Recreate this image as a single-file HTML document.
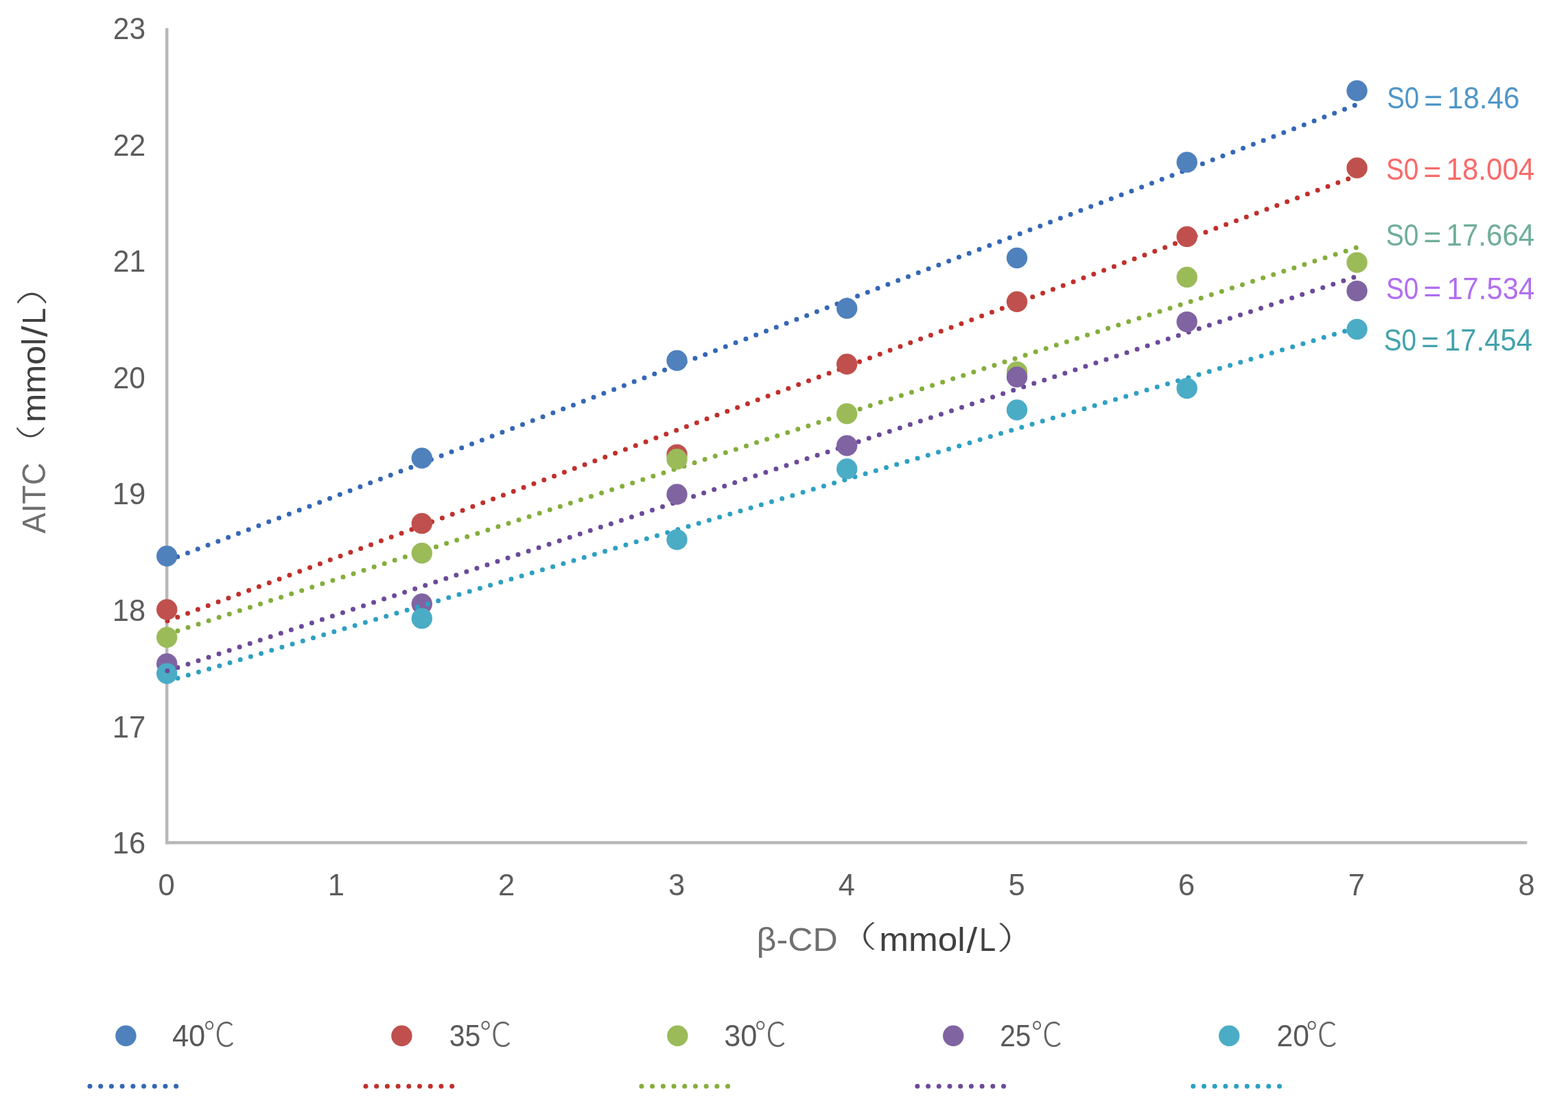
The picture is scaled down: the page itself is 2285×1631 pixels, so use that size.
<!DOCTYPE html>
<html><head><meta charset="utf-8"><title>AITC vs β-CD</title><style>
html,body{margin:0;padding:0;background:#fff;}
body{width:2285px;height:1631px;overflow:hidden;}
svg{display:block;}
text{font-family:"Liberation Sans","Noto Sans CJK SC",sans-serif;}
</style></head>
<body>
<svg width="2285" height="1631" viewBox="0 0 2285 1631">
<rect width="2285" height="1631" fill="#fff"/>
<line x1="243.2" y1="41" x2="243.2" y2="1230.5" stroke="#b8b8b8" stroke-width="4.5"/>
<line x1="241" y1="1228.3" x2="2225.4" y2="1228.3" stroke="#b8b8b8" stroke-width="4.5"/>
<text class="tk"><tspan x="163.75" y="1244.15" fill="#5c5c5c" style="font-size:43.5px" textLength="48.33" lengthAdjust="spacingAndGlyphs">16</tspan></text>
<text class="tk"><tspan x="163.73" y="1074.55" fill="#5c5c5c" style="font-size:43.5px" textLength="48.61" lengthAdjust="spacingAndGlyphs">17</tspan></text>
<text class="tk"><tspan x="163.75" y="904.95" fill="#5c5c5c" style="font-size:43.5px" textLength="48.33" lengthAdjust="spacingAndGlyphs">18</tspan></text>
<text class="tk"><tspan x="163.73" y="735.35" fill="#5c5c5c" style="font-size:43.5px" textLength="48.61" lengthAdjust="spacingAndGlyphs">19</tspan></text>
<text class="tk"><tspan x="164.82" y="565.75" fill="#5c5c5c" style="font-size:43.5px" textLength="46.97" lengthAdjust="spacingAndGlyphs">20</tspan></text>
<text class="tk"><tspan x="164.79" y="396.15" fill="#5c5c5c" style="font-size:43.5px" textLength="47.51" lengthAdjust="spacingAndGlyphs">21</tspan></text>
<text class="tk"><tspan x="164.79" y="226.55" fill="#5c5c5c" style="font-size:43.5px" textLength="47.51" lengthAdjust="spacingAndGlyphs">22</tspan></text>
<text class="tk"><tspan x="164.80" y="56.95" fill="#5c5c5c" style="font-size:43.5px" textLength="47.24" lengthAdjust="spacingAndGlyphs">23</tspan></text>
<text class="tk"><tspan x="230.57" y="1304.55" fill="#5c5c5c" style="font-size:43.5px" textLength="24.20" lengthAdjust="spacingAndGlyphs">0</tspan></text>
<text class="tk"><tspan x="477.82" y="1304.55" fill="#5c5c5c" style="font-size:43.5px" textLength="24.20" lengthAdjust="spacingAndGlyphs">1</tspan></text>
<text class="tk"><tspan x="726.08" y="1304.55" fill="#5c5c5c" style="font-size:43.5px" textLength="24.20" lengthAdjust="spacingAndGlyphs">2</tspan></text>
<text class="tk"><tspan x="973.95" y="1304.55" fill="#5c5c5c" style="font-size:43.5px" textLength="24.20" lengthAdjust="spacingAndGlyphs">3</tspan></text>
<text class="tk"><tspan x="1221.70" y="1304.55" fill="#5c5c5c" style="font-size:43.5px" textLength="24.20" lengthAdjust="spacingAndGlyphs">4</tspan></text>
<text class="tk"><tspan x="1469.45" y="1304.55" fill="#5c5c5c" style="font-size:43.5px" textLength="24.20" lengthAdjust="spacingAndGlyphs">5</tspan></text>
<text class="tk"><tspan x="1716.95" y="1304.55" fill="#5c5c5c" style="font-size:43.5px" textLength="24.20" lengthAdjust="spacingAndGlyphs">6</tspan></text>
<text class="tk"><tspan x="1964.83" y="1304.55" fill="#5c5c5c" style="font-size:43.5px" textLength="24.20" lengthAdjust="spacingAndGlyphs">7</tspan></text>
<text class="tk"><tspan x="2212.57" y="1304.55" fill="#5c5c5c" style="font-size:43.5px" textLength="24.20" lengthAdjust="spacingAndGlyphs">8</tspan></text>
<circle cx="243.2" cy="810.5" r="15.2" fill="#4F81BD"/>
<circle cx="614.8" cy="667.8" r="15.2" fill="#4F81BD"/>
<circle cx="986.5" cy="525.5" r="15.2" fill="#4F81BD"/>
<circle cx="1234.2" cy="449.5" r="15.2" fill="#4F81BD"/>
<circle cx="1482.0" cy="376" r="15.2" fill="#4F81BD"/>
<circle cx="1729.7" cy="236.5" r="15.2" fill="#4F81BD"/>
<circle cx="1977.5" cy="132.2" r="15.2" fill="#4F81BD"/>
<circle cx="243.2" cy="888.4" r="15.2" fill="#C0504D"/>
<circle cx="614.8" cy="762.9" r="15.2" fill="#C0504D"/>
<circle cx="986.5" cy="662.6" r="15.2" fill="#C0504D"/>
<circle cx="1234.2" cy="530.7" r="15.2" fill="#C0504D"/>
<circle cx="1482.0" cy="439.7" r="15.2" fill="#C0504D"/>
<circle cx="1729.7" cy="344.9" r="15.2" fill="#C0504D"/>
<circle cx="1977.5" cy="244.7" r="15.2" fill="#C0504D"/>
<circle cx="243.2" cy="929" r="15.2" fill="#9BBB59"/>
<circle cx="614.8" cy="806.3" r="15.2" fill="#9BBB59"/>
<circle cx="986.5" cy="669.3" r="15.2" fill="#9BBB59"/>
<circle cx="1234.2" cy="603" r="15.2" fill="#9BBB59"/>
<circle cx="1482.0" cy="542" r="15.2" fill="#9BBB59"/>
<circle cx="1729.7" cy="404" r="15.2" fill="#9BBB59"/>
<circle cx="1977.5" cy="382.6" r="15.2" fill="#9BBB59"/>
<circle cx="243.2" cy="967.5" r="15.2" fill="#8064A2"/>
<circle cx="614.8" cy="880.2" r="15.2" fill="#8064A2"/>
<circle cx="986.5" cy="720.5" r="15.2" fill="#8064A2"/>
<circle cx="1234.2" cy="649.5" r="15.2" fill="#8064A2"/>
<circle cx="1482.0" cy="549.5" r="15.2" fill="#8064A2"/>
<circle cx="1729.7" cy="469.1" r="15.2" fill="#8064A2"/>
<circle cx="1977.5" cy="424.1" r="15.2" fill="#8064A2"/>
<circle cx="243.2" cy="981.7" r="15.2" fill="#4BACC6"/>
<circle cx="614.8" cy="901.4" r="15.2" fill="#4BACC6"/>
<circle cx="986.5" cy="786.6" r="15.2" fill="#4BACC6"/>
<circle cx="1234.2" cy="683.4" r="15.2" fill="#4BACC6"/>
<circle cx="1482.0" cy="597.5" r="15.2" fill="#4BACC6"/>
<circle cx="1729.7" cy="566" r="15.2" fill="#4BACC6"/>
<circle cx="1977.5" cy="479.9" r="15.2" fill="#4BACC6"/>
<defs>
<mask id="mB" maskUnits="userSpaceOnUse" x="0" y="0" width="2285" height="1631"><rect width="2285" height="1631" fill="#fff"/><circle cx="243.2" cy="810.5" r="14.899999999999999" fill="#000"/><circle cx="614.8" cy="667.8" r="14.899999999999999" fill="#000"/><circle cx="986.5" cy="525.5" r="14.899999999999999" fill="#000"/><circle cx="1234.2" cy="449.5" r="14.899999999999999" fill="#000"/><circle cx="1482.0" cy="376" r="14.899999999999999" fill="#000"/><circle cx="1729.7" cy="236.5" r="14.899999999999999" fill="#000"/><circle cx="1977.5" cy="132.2" r="14.899999999999999" fill="#000"/><circle cx="243.2" cy="888.4" r="15.2" fill="#fff"/><circle cx="614.8" cy="762.9" r="15.2" fill="#fff"/><circle cx="986.5" cy="662.6" r="15.2" fill="#fff"/><circle cx="1234.2" cy="530.7" r="15.2" fill="#fff"/><circle cx="1482.0" cy="439.7" r="15.2" fill="#fff"/><circle cx="1729.7" cy="344.9" r="15.2" fill="#fff"/><circle cx="1977.5" cy="244.7" r="15.2" fill="#fff"/><circle cx="243.2" cy="929" r="15.2" fill="#fff"/><circle cx="614.8" cy="806.3" r="15.2" fill="#fff"/><circle cx="986.5" cy="669.3" r="15.2" fill="#fff"/><circle cx="1234.2" cy="603" r="15.2" fill="#fff"/><circle cx="1482.0" cy="542" r="15.2" fill="#fff"/><circle cx="1729.7" cy="404" r="15.2" fill="#fff"/><circle cx="1977.5" cy="382.6" r="15.2" fill="#fff"/><circle cx="243.2" cy="967.5" r="15.2" fill="#fff"/><circle cx="614.8" cy="880.2" r="15.2" fill="#fff"/><circle cx="986.5" cy="720.5" r="15.2" fill="#fff"/><circle cx="1234.2" cy="649.5" r="15.2" fill="#fff"/><circle cx="1482.0" cy="549.5" r="15.2" fill="#fff"/><circle cx="1729.7" cy="469.1" r="15.2" fill="#fff"/><circle cx="1977.5" cy="424.1" r="15.2" fill="#fff"/><circle cx="243.2" cy="981.7" r="15.2" fill="#fff"/><circle cx="614.8" cy="901.4" r="15.2" fill="#fff"/><circle cx="986.5" cy="786.6" r="15.2" fill="#fff"/><circle cx="1234.2" cy="683.4" r="15.2" fill="#fff"/><circle cx="1482.0" cy="597.5" r="15.2" fill="#fff"/><circle cx="1729.7" cy="566" r="15.2" fill="#fff"/><circle cx="1977.5" cy="479.9" r="15.2" fill="#fff"/></mask>
<mask id="mR" maskUnits="userSpaceOnUse" x="0" y="0" width="2285" height="1631"><rect width="2285" height="1631" fill="#fff"/><circle cx="243.2" cy="888.4" r="14.899999999999999" fill="#000"/><circle cx="614.8" cy="762.9" r="14.899999999999999" fill="#000"/><circle cx="986.5" cy="662.6" r="14.899999999999999" fill="#000"/><circle cx="1234.2" cy="530.7" r="14.899999999999999" fill="#000"/><circle cx="1482.0" cy="439.7" r="14.899999999999999" fill="#000"/><circle cx="1729.7" cy="344.9" r="14.899999999999999" fill="#000"/><circle cx="1977.5" cy="244.7" r="14.899999999999999" fill="#000"/><circle cx="243.2" cy="929" r="15.2" fill="#fff"/><circle cx="614.8" cy="806.3" r="15.2" fill="#fff"/><circle cx="986.5" cy="669.3" r="15.2" fill="#fff"/><circle cx="1234.2" cy="603" r="15.2" fill="#fff"/><circle cx="1482.0" cy="542" r="15.2" fill="#fff"/><circle cx="1729.7" cy="404" r="15.2" fill="#fff"/><circle cx="1977.5" cy="382.6" r="15.2" fill="#fff"/><circle cx="243.2" cy="967.5" r="15.2" fill="#fff"/><circle cx="614.8" cy="880.2" r="15.2" fill="#fff"/><circle cx="986.5" cy="720.5" r="15.2" fill="#fff"/><circle cx="1234.2" cy="649.5" r="15.2" fill="#fff"/><circle cx="1482.0" cy="549.5" r="15.2" fill="#fff"/><circle cx="1729.7" cy="469.1" r="15.2" fill="#fff"/><circle cx="1977.5" cy="424.1" r="15.2" fill="#fff"/><circle cx="243.2" cy="981.7" r="15.2" fill="#fff"/><circle cx="614.8" cy="901.4" r="15.2" fill="#fff"/><circle cx="986.5" cy="786.6" r="15.2" fill="#fff"/><circle cx="1234.2" cy="683.4" r="15.2" fill="#fff"/><circle cx="1482.0" cy="597.5" r="15.2" fill="#fff"/><circle cx="1729.7" cy="566" r="15.2" fill="#fff"/><circle cx="1977.5" cy="479.9" r="15.2" fill="#fff"/></mask>
<mask id="mG" maskUnits="userSpaceOnUse" x="0" y="0" width="2285" height="1631"><rect width="2285" height="1631" fill="#fff"/><circle cx="243.2" cy="929" r="14.899999999999999" fill="#000"/><circle cx="614.8" cy="806.3" r="14.899999999999999" fill="#000"/><circle cx="986.5" cy="669.3" r="14.899999999999999" fill="#000"/><circle cx="1234.2" cy="603" r="14.899999999999999" fill="#000"/><circle cx="1482.0" cy="542" r="14.899999999999999" fill="#000"/><circle cx="1729.7" cy="404" r="14.899999999999999" fill="#000"/><circle cx="1977.5" cy="382.6" r="14.899999999999999" fill="#000"/><circle cx="243.2" cy="967.5" r="15.2" fill="#fff"/><circle cx="614.8" cy="880.2" r="15.2" fill="#fff"/><circle cx="986.5" cy="720.5" r="15.2" fill="#fff"/><circle cx="1234.2" cy="649.5" r="15.2" fill="#fff"/><circle cx="1482.0" cy="549.5" r="15.2" fill="#fff"/><circle cx="1729.7" cy="469.1" r="15.2" fill="#fff"/><circle cx="1977.5" cy="424.1" r="15.2" fill="#fff"/><circle cx="243.2" cy="981.7" r="15.2" fill="#fff"/><circle cx="614.8" cy="901.4" r="15.2" fill="#fff"/><circle cx="986.5" cy="786.6" r="15.2" fill="#fff"/><circle cx="1234.2" cy="683.4" r="15.2" fill="#fff"/><circle cx="1482.0" cy="597.5" r="15.2" fill="#fff"/><circle cx="1729.7" cy="566" r="15.2" fill="#fff"/><circle cx="1977.5" cy="479.9" r="15.2" fill="#fff"/></mask>
<mask id="mP" maskUnits="userSpaceOnUse" x="0" y="0" width="2285" height="1631"><rect width="2285" height="1631" fill="#fff"/><circle cx="243.2" cy="967.5" r="14.899999999999999" fill="#000"/><circle cx="614.8" cy="880.2" r="14.899999999999999" fill="#000"/><circle cx="986.5" cy="720.5" r="14.899999999999999" fill="#000"/><circle cx="1234.2" cy="649.5" r="14.899999999999999" fill="#000"/><circle cx="1482.0" cy="549.5" r="14.899999999999999" fill="#000"/><circle cx="1729.7" cy="469.1" r="14.899999999999999" fill="#000"/><circle cx="1977.5" cy="424.1" r="14.899999999999999" fill="#000"/><circle cx="243.2" cy="981.7" r="15.2" fill="#fff"/><circle cx="614.8" cy="901.4" r="15.2" fill="#fff"/><circle cx="986.5" cy="786.6" r="15.2" fill="#fff"/><circle cx="1234.2" cy="683.4" r="15.2" fill="#fff"/><circle cx="1482.0" cy="597.5" r="15.2" fill="#fff"/><circle cx="1729.7" cy="566" r="15.2" fill="#fff"/><circle cx="1977.5" cy="479.9" r="15.2" fill="#fff"/></mask>
<mask id="mA" maskUnits="userSpaceOnUse" x="0" y="0" width="2285" height="1631"><rect width="2285" height="1631" fill="#fff"/><circle cx="243.2" cy="981.7" r="14.899999999999999" fill="#000"/><circle cx="614.8" cy="901.4" r="14.899999999999999" fill="#000"/><circle cx="986.5" cy="786.6" r="14.899999999999999" fill="#000"/><circle cx="1234.2" cy="683.4" r="14.899999999999999" fill="#000"/><circle cx="1482.0" cy="597.5" r="14.899999999999999" fill="#000"/><circle cx="1729.7" cy="566" r="14.899999999999999" fill="#000"/><circle cx="1977.5" cy="479.9" r="14.899999999999999" fill="#000"/></mask>
</defs>
<line x1="243.2" y1="817.55" x2="1977.5" y2="152.34" stroke="#3567b5" stroke-width="7.0" stroke-linecap="round" stroke-dasharray="0 15.84" stroke-dashoffset="-0.72" mask="url(#mB)"/>
<line x1="243.2" y1="905.24" x2="1977.5" y2="255.84" stroke="#c0302c" stroke-width="7.0" stroke-linecap="round" stroke-dasharray="0 15.84" stroke-dashoffset="-0.72" mask="url(#mR)"/>
<line x1="243.2" y1="924.57" x2="1977.5" y2="360.57" stroke="#84ae3c" stroke-width="7.0" stroke-linecap="round" stroke-dasharray="0 15.84" stroke-dashoffset="-0.72" mask="url(#mG)"/>
<line x1="243.2" y1="978.09" x2="1977.5" y2="402.69" stroke="#6b4a9a" stroke-width="7.0" stroke-linecap="round" stroke-dasharray="0 15.84" stroke-dashoffset="-0.72" mask="url(#mP)"/>
<line x1="243.2" y1="993.22" x2="1977.5" y2="477.51" stroke="#2ea0c2" stroke-width="7.0" stroke-linecap="round" stroke-dasharray="0 15.84" stroke-dashoffset="-0.72" mask="url(#mA)"/>
<text><tspan x="2021.34" y="158.00" fill="#4f96c8" style="font-size:43.5px" textLength="46.76" lengthAdjust="spacingAndGlyphs">S0</tspan> <tspan x="2075.31" y="160.60" fill="#4f96c8" style="font-size:43.5px" textLength="26.98" lengthAdjust="spacingAndGlyphs">=</tspan> <tspan x="2108.95" y="158.00" fill="#4f96c8" style="font-size:43.5px" textLength="105.55" lengthAdjust="spacingAndGlyphs">18.46</tspan></text>
<text><tspan x="2020.02" y="262.00" fill="#f86a6a" style="font-size:43.5px" textLength="47.30" lengthAdjust="spacingAndGlyphs">S0</tspan> <tspan x="2074.53" y="264.60" fill="#f86a6a" style="font-size:43.5px" textLength="25.65" lengthAdjust="spacingAndGlyphs">=</tspan> <tspan x="2107.56" y="262.00" fill="#f86a6a" style="font-size:43.5px" textLength="128.70" lengthAdjust="spacingAndGlyphs">18.004</tspan></text>
<text><tspan x="2019.71" y="357.60" fill="#6fae98" style="font-size:43.5px" textLength="47.62" lengthAdjust="spacingAndGlyphs">S0</tspan> <tspan x="2074.53" y="360.20" fill="#6fae98" style="font-size:43.5px" textLength="25.65" lengthAdjust="spacingAndGlyphs">=</tspan> <tspan x="2107.56" y="357.60" fill="#6fae98" style="font-size:43.5px" textLength="128.70" lengthAdjust="spacingAndGlyphs">17.664</tspan></text>
<text><tspan x="2020.02" y="436.30" fill="#b06ef0" style="font-size:43.5px" textLength="47.30" lengthAdjust="spacingAndGlyphs">S0</tspan> <tspan x="2074.53" y="438.90" fill="#b06ef0" style="font-size:43.5px" textLength="25.65" lengthAdjust="spacingAndGlyphs">=</tspan> <tspan x="2108.38" y="436.30" fill="#b06ef0" style="font-size:43.5px" textLength="127.87" lengthAdjust="spacingAndGlyphs">17.534</tspan></text>
<text><tspan x="2016.72" y="510.70" fill="#43a2ad" style="font-size:43.5px" textLength="47.30" lengthAdjust="spacingAndGlyphs">S0</tspan> <tspan x="2071.24" y="513.30" fill="#43a2ad" style="font-size:43.5px" textLength="25.53" lengthAdjust="spacingAndGlyphs">=</tspan> <tspan x="2105.08" y="510.70" fill="#43a2ad" style="font-size:43.5px" textLength="127.87" lengthAdjust="spacingAndGlyphs">17.454</tspan></text>
<text><tspan x="1102.60" y="1385.90" fill="#707070" style="font-size:48px" textLength="118.03" lengthAdjust="spacingAndGlyphs">β-CD</tspan><tspan x="1209.90" y="1381.10" fill="#454545" style="font-size:42.86px;font-weight:300" textLength="67.74" lengthAdjust="spacingAndGlyphs">（</tspan><tspan x="1281.23" y="1385.90" fill="#404040" style="font-size:48px" textLength="125.36" lengthAdjust="spacingAndGlyphs">mmol</tspan><tspan x="1408.23" y="1388.80" fill="#404040" style="font-size:52px" textLength="15.89" lengthAdjust="spacingAndGlyphs">/</tspan><tspan x="1426.88" y="1385.90" fill="#404040" style="font-size:48px" textLength="24.15" lengthAdjust="spacingAndGlyphs">L</tspan><tspan x="1453.04" y="1383.75" fill="#454545" style="font-size:44.98px;font-weight:300" textLength="67.26" lengthAdjust="spacingAndGlyphs">）</tspan></text>
<g transform="translate(66.0,777.2) rotate(-90)"><text><tspan x="-0.24" y="0.00" fill="#707070" style="font-size:48px" textLength="103.17" lengthAdjust="spacingAndGlyphs">AITC</tspan><tspan x="95.46" y="-4.80" fill="#454545" style="font-size:42.86px;font-weight:300" textLength="62.30" lengthAdjust="spacingAndGlyphs">（</tspan><tspan x="161.38" y="0.00" fill="#404040" style="font-size:48px" textLength="123.35" lengthAdjust="spacingAndGlyphs">mmol</tspan><tspan x="286.17" y="2.90" fill="#404040" style="font-size:52px" textLength="15.89" lengthAdjust="spacingAndGlyphs">/</tspan><tspan x="304.64" y="0.00" fill="#404040" style="font-size:48px" textLength="23.77" lengthAdjust="spacingAndGlyphs">L</tspan><tspan x="331.38" y="-2.15" fill="#454545" style="font-size:44.98px;font-weight:300" textLength="66.40" lengthAdjust="spacingAndGlyphs">）</tspan></text></g>
<circle cx="183.4" cy="1509.8" r="15.2" fill="#4F81BD"/>
<text><tspan x="250.90" y="1525.00" fill="#595959" style="font-size:43.5px" textLength="48.23" lengthAdjust="spacingAndGlyphs">40</tspan><tspan x="296.54" y="1524.65" fill="#666666" style="font-size:49.3px;font-weight:300" textLength="45.97" lengthAdjust="spacingAndGlyphs">℃</tspan></text>
<circle cx="131.00" cy="1583.2" r="3.5" fill="#3567b5"/><circle cx="146.71" cy="1583.2" r="3.5" fill="#3567b5"/><circle cx="162.42" cy="1583.2" r="3.5" fill="#3567b5"/><circle cx="178.13" cy="1583.2" r="3.5" fill="#3567b5"/><circle cx="193.84" cy="1583.2" r="3.5" fill="#3567b5"/><circle cx="209.55" cy="1583.2" r="3.5" fill="#3567b5"/><circle cx="225.26" cy="1583.2" r="3.5" fill="#3567b5"/><circle cx="240.97" cy="1583.2" r="3.5" fill="#3567b5"/><circle cx="256.68" cy="1583.2" r="3.5" fill="#3567b5"/>
<circle cx="585.4" cy="1509.8" r="15.2" fill="#C0504D"/>
<text><tspan x="654.65" y="1525.00" fill="#595959" style="font-size:43.5px" textLength="45.63" lengthAdjust="spacingAndGlyphs">35</tspan><tspan x="698.78" y="1524.65" fill="#666666" style="font-size:49.3px;font-weight:300" textLength="46.99" lengthAdjust="spacingAndGlyphs">℃</tspan></text>
<circle cx="532.95" cy="1583.2" r="3.5" fill="#c0302c"/><circle cx="548.66" cy="1583.2" r="3.5" fill="#c0302c"/><circle cx="564.37" cy="1583.2" r="3.5" fill="#c0302c"/><circle cx="580.08" cy="1583.2" r="3.5" fill="#c0302c"/><circle cx="595.79" cy="1583.2" r="3.5" fill="#c0302c"/><circle cx="611.50" cy="1583.2" r="3.5" fill="#c0302c"/><circle cx="627.21" cy="1583.2" r="3.5" fill="#c0302c"/><circle cx="642.92" cy="1583.2" r="3.5" fill="#c0302c"/><circle cx="658.63" cy="1583.2" r="3.5" fill="#c0302c"/>
<circle cx="987.3" cy="1509.8" r="15.2" fill="#9BBB59"/>
<text><tspan x="1055.16" y="1525.00" fill="#595959" style="font-size:43.5px" textLength="48.17" lengthAdjust="spacingAndGlyphs">30</tspan><tspan x="1099.61" y="1524.65" fill="#666666" style="font-size:49.3px;font-weight:300" textLength="46.42" lengthAdjust="spacingAndGlyphs">℃</tspan></text>
<circle cx="934.90" cy="1583.2" r="3.5" fill="#84ae3c"/><circle cx="950.61" cy="1583.2" r="3.5" fill="#84ae3c"/><circle cx="966.32" cy="1583.2" r="3.5" fill="#84ae3c"/><circle cx="982.03" cy="1583.2" r="3.5" fill="#84ae3c"/><circle cx="997.74" cy="1583.2" r="3.5" fill="#84ae3c"/><circle cx="1013.45" cy="1583.2" r="3.5" fill="#84ae3c"/><circle cx="1029.16" cy="1583.2" r="3.5" fill="#84ae3c"/><circle cx="1044.87" cy="1583.2" r="3.5" fill="#84ae3c"/><circle cx="1060.58" cy="1583.2" r="3.5" fill="#84ae3c"/>
<circle cx="1389.2" cy="1509.8" r="15.2" fill="#8064A2"/>
<text><tspan x="1457.19" y="1525.00" fill="#595959" style="font-size:43.5px" textLength="45.27" lengthAdjust="spacingAndGlyphs">25</tspan><tspan x="1502.55" y="1524.65" fill="#666666" style="font-size:49.3px;font-weight:300" textLength="45.75" lengthAdjust="spacingAndGlyphs">℃</tspan></text>
<circle cx="1336.85" cy="1583.2" r="3.5" fill="#6b4a9a"/><circle cx="1352.56" cy="1583.2" r="3.5" fill="#6b4a9a"/><circle cx="1368.27" cy="1583.2" r="3.5" fill="#6b4a9a"/><circle cx="1383.98" cy="1583.2" r="3.5" fill="#6b4a9a"/><circle cx="1399.69" cy="1583.2" r="3.5" fill="#6b4a9a"/><circle cx="1415.40" cy="1583.2" r="3.5" fill="#6b4a9a"/><circle cx="1431.11" cy="1583.2" r="3.5" fill="#6b4a9a"/><circle cx="1446.82" cy="1583.2" r="3.5" fill="#6b4a9a"/><circle cx="1462.53" cy="1583.2" r="3.5" fill="#6b4a9a"/>
<circle cx="1791.2" cy="1509.8" r="15.2" fill="#4BACC6"/>
<text><tspan x="1860.50" y="1525.00" fill="#595959" style="font-size:43.5px" textLength="47.30" lengthAdjust="spacingAndGlyphs">20</tspan><tspan x="1903.12" y="1524.65" fill="#666666" style="font-size:49.3px;font-weight:300" textLength="46.31" lengthAdjust="spacingAndGlyphs">℃</tspan></text>
<circle cx="1738.80" cy="1583.2" r="3.5" fill="#2ea0c2"/><circle cx="1754.51" cy="1583.2" r="3.5" fill="#2ea0c2"/><circle cx="1770.22" cy="1583.2" r="3.5" fill="#2ea0c2"/><circle cx="1785.93" cy="1583.2" r="3.5" fill="#2ea0c2"/><circle cx="1801.64" cy="1583.2" r="3.5" fill="#2ea0c2"/><circle cx="1817.35" cy="1583.2" r="3.5" fill="#2ea0c2"/><circle cx="1833.06" cy="1583.2" r="3.5" fill="#2ea0c2"/><circle cx="1848.77" cy="1583.2" r="3.5" fill="#2ea0c2"/><circle cx="1864.48" cy="1583.2" r="3.5" fill="#2ea0c2"/>
</svg>
</body></html>
